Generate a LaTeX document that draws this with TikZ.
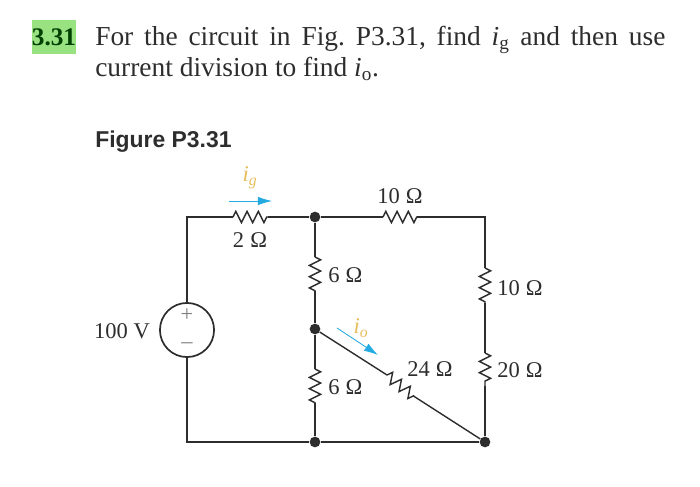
\documentclass[tikz,border=0pt]{standalone}
\usepackage{fontspec}
\setmainfont{Liberation Serif}
\newfontfamily\headfont{Liberation Sans}
\usepackage{xcolor}
\usetikzlibrary{arrows.meta, decorations.pathmorphing}
\definecolor{markgreen}{RGB}{152, 226, 130}
\definecolor{inkdark}{RGB}{45, 45, 45}
\definecolor{flowblue}{RGB}{35, 170, 225}
\definecolor{currentgold}{RGB}{232, 190, 90}
\newcommand{\ohms}{\hspace{0.27em}\symbol{"03A9}}
\tikzset{
    wire/.style={draw=inkdark, line width=1pt},
    res/.style={wire, decorate, decoration={zigzag, segment length=8pt, amplitude=4pt}},
    dot/.style={circle, fill=inkdark, inner sep=0pt, minimum size=7.6pt},
    value/.style={inner sep=0pt, text=inkdark, font=\fontsize{16}{18}\selectfont},
    current/.style={inner sep=0pt, text=currentgold, font=\fontsize{16}{18}\selectfont\itshape},
    flow/.style={draw=flowblue, line width=0.6pt, -{Latex[length=10pt,width=6pt]}}
}

\begin{document}
\begin{tikzpicture}[x=0.025cm, y=-0.025cm]
    \useasboundingbox (0,0) rectangle (700,487);
    \fill[white] (0,0) rectangle (700,487);

    % problem text
    \node[fill=markgreen, text=black!75!green, inner sep=0pt, minimum width=32pt, minimum height=24.5pt, font=\fontsize{18}{23}\selectfont\bfseries] (number) at (54,37) {3.31};
    \node[anchor=north west, inner sep=0pt, text=inkdark] (problem) at (95,25.5) {
        \begin{minipage}{14.25cm}
            \fontsize{19.5}{22}\selectfont\frenchspacing
            For the circuit in Fig. P3.31, find \textit{i}\textsubscript{g} and then use\linebreak current division to find \textit{i}\textsubscript{o}.
        \end{minipage}
    };
    \node[anchor=west, inner sep=0pt, text=inkdark, font=\headfont\bfseries\fontsize{16.3}{20}\selectfont] (figtitle) at (95,142) {Figure P3.31};

    % junctions
    \node[dot] (top) at (315,217) {};
    \node[dot] (mid) at (315,329) {};
    \node[dot] (bot) at (315,442) {};
    \node[dot] (right) at (485,442) {};
    \coordinate (corner) at (485,217);

    % source
    \node[circle, draw=inkdark, line width=1.2pt, inner sep=0pt, minimum size=38.5pt] (src) at (187,330) {};
    \node[inner sep=0pt, text=gray, font=\fontsize{16}{18}\selectfont] (plus) at (187,315) {+};
    \node[inner sep=0pt, text=gray, font=\fontsize{16}{18}\selectfont] (minus) at (187,346) {--};

    % resistor ends
    \coordinate (r2a) at (233,217);
    \coordinate (r2b) at (268,217);
    \coordinate (r10a) at (383,217);
    \coordinate (r10b) at (417,217);
    \coordinate (r6a) at (315,257);
    \coordinate (r6b) at (315,291);
    \coordinate (r6c) at (315,369);
    \coordinate (r6d) at (315,403);
    \coordinate (r10c) at (485,268);
    \coordinate (r10d) at (485,303);
    \coordinate (r20a) at (485,353);
    \coordinate (r20b) at (485,386);
    \coordinate (r24a) at (387,375);
    \coordinate (r24b) at (415,397);

    % wires
    \draw[wire] (src.north) |- (r2a);
    \draw[wire] (r2b) -- (top);
    \draw[wire] (top) -- (r10a);
    \draw[wire] (r10b) -- (corner) -- (r10c);
    \draw[wire] (r10d) -- (r20a);
    \draw[wire] (r20b) -- (right);
    \draw[wire] (src.south) |- (bot);
    \draw[wire] (bot) -- (right);
    \draw[wire] (top) -- (r6a);
    \draw[wire] (r6b) -- (mid);
    \draw[wire] (mid) -- (r6c);
    \draw[wire] (r6d) -- (bot);
    \draw[wire] (mid) -- (r24a);
    \draw[wire] (r24b) -- (right);

    % resistors
    \draw[res] (r2a) -- (r2b);
    \draw[res] (r10a) -- (r10b);
    \draw[res] (r6a) -- (r6b);
    \draw[res] (r6c) -- (r6d);
    \draw[res] (r10c) -- (r10d);
    \draw[res] (r20a) -- (r20b);
    \draw[res] (r24a) -- (r24b);

    % values
    \node[value] (v100) at (122,331) {100 V};
    \node[value] (v2) at (250,240) {2\ohms};
    \node[value] (v10top) at (400,196) {10\ohms};
    \node[value, anchor=west] (v6top) at (328,275) {6\ohms};
    \node[value, anchor=west] (v6bot) at (328,387) {6\ohms};
    \node[value, anchor=west] (v24) at (407,369) {24\ohms};
    \node[value, anchor=west] (v10) at (497,288) {10\ohms};
    \node[value, anchor=west] (v20) at (497,370) {20\ohms};

    % currents
    \coordinate (igtail) at (229,201);
    \coordinate (ighead) at (272,201);
    \coordinate (iotail) at (337,328);
    \coordinate (iohead) at (378,355);
    \draw[flow] (igtail) -- (ighead);
    \draw[flow] (iotail) -- (iohead);
    \node[current] (ig) at (250,178) {i\textsubscript{g}};
    \node[current] (io) at (361,328) {i\textsubscript{o}};
\end{tikzpicture}
\end{document}
